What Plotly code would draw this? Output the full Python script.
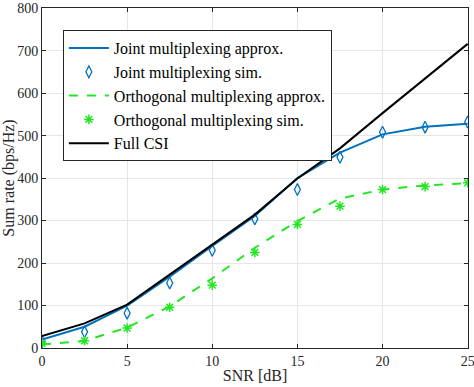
import plotly.graph_objects as go

snr = [0, 2.5, 5, 7.5, 10, 12.5, 15, 17.5, 20, 22.5, 25]
full_csi = [28, 58, 102, 172, 243, 314, 399, 470, 553, 635, 716]
joint_approx = [20, 50, 100, 168, 240, 311, 400, 460, 503, 521, 528]
joint_sim = [15, 38, 82, 153, 230, 304, 373, 449, 508, 520, 532]
orth_approx = [8, 17, 48, 98, 164, 236, 299, 352, 373, 383, 388]
orth_sim = [11, 17, 47, 96, 148, 225, 291, 334, 373, 380, 389]

BLUE = "#0072BD"
GREEN = "#22E622"
FONT = "Liberation Serif"

fig = go.Figure()
fig.add_trace(go.Scatter(x=snr, y=joint_approx, mode="lines", name="Joint multiplexing approx.",
                         line=dict(color=BLUE, width=2)))
fig.add_trace(go.Scatter(x=snr, y=joint_sim, mode="markers", name="Joint multiplexing sim.",
                         marker=dict(symbol="diamond-tall-open", size=8.5, color=BLUE, line=dict(width=1.3, color=BLUE))))
fig.add_trace(go.Scatter(x=snr, y=orth_approx, mode="lines", name="Orthogonal multiplexing approx.",
                         line=dict(color=GREEN, width=2, dash="dash")))
fig.add_trace(go.Scatter(x=snr, y=orth_sim, mode="markers", name="Orthogonal multiplexing sim.",
                         marker=dict(symbol="asterisk-open", size=8, color=GREEN, line=dict(width=1.5, color=GREEN))))
fig.add_trace(go.Scatter(x=snr, y=full_csi, mode="lines", name="Full CSI",
                         line=dict(color="black", width=2)))

axis_common = dict(showline=True, linecolor="#262626", linewidth=1, mirror="ticks",
                   ticks="inside", ticklen=4, tickcolor="#262626", automargin=False,
                   ticklabeloverflow="allow",
                   showgrid=True, gridcolor="#E6E6E6", gridwidth=1, zeroline=False,
                   tickfont=dict(family=FONT, size=14, color="#262626"))

fig.update_layout(
    width=474, height=387,
    margin=dict(l=42, r=6, t=8, b=39),
    paper_bgcolor="white", plot_bgcolor="white",
    font=dict(family=FONT, color="#262626"),
    xaxis=dict(range=[0, 25.02], tickvals=[0, 5, 10, 15, 20, 25],
               title=dict(text="SNR [dB]", font=dict(family=FONT, size=16), standoff=2), **axis_common),
    yaxis=dict(range=[0, 800.5], tickvals=[0, 100, 200, 300, 400, 500, 600, 700, 800],
               title=dict(text="Sum rate (bps/Hz)", font=dict(family=FONT, size=16), standoff=4), **axis_common),
    legend=dict(x=0.049, y=0.935, xanchor="left", yanchor="top",
                bgcolor="white", bordercolor="#262626", borderwidth=1,
                font=dict(family=FONT, size=16, color="black"),
                tracegroupgap=0, itemwidth=40),
    showlegend=True,
)

fig.write_html("out.html", config={"displayModeBar": False},
               post_script="document.body.style.margin='0px';document.body.style.padding='0px';")
